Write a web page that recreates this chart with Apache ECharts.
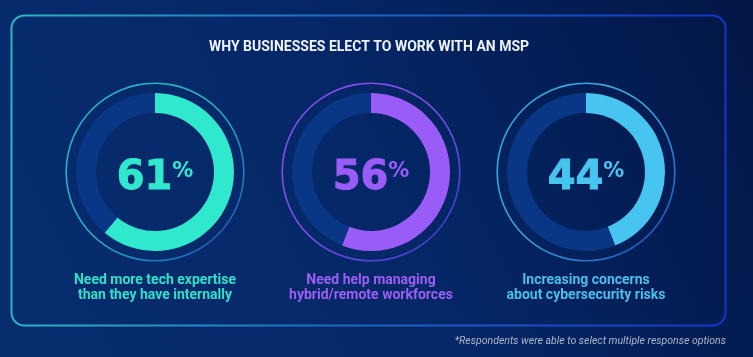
<!DOCTYPE html>
<html><head><meta charset="utf-8">
<script src="https://cdn.jsdelivr.net/npm/echarts@6/dist/echarts.min.js"></script>
<style>html,body{margin:0;padding:0;background:#05245e}#c{width:753px;height:357px}</style>
</head><body><div id="c"></div>
<script>
// ---- data ----
const chartTitle = 'WHY BUSINESSES ELECT TO WORK WITH AN MSP';
const values = [61, 56, 44];
const labels = [
  'Need more tech expertise\nthan they have internally',
  'Need help managing\nhybrid/remote workforces',
  'Increasing concerns\nabout cybersecurity risks'
];
const footnote = '*Respondents were able to select multiple response options';

// ---- styling / layout ----
const fillColors = ['#2fe8cd', '#9a5cf7', '#47c4f0'];
const labelColors = ['#31e0c9', '#9d5ff4', '#4bbdea'];
const ringColors = [['#2ab2c2', '#1b45b4'], ['#8150ea', '#2a3cc0'], ['#3aa6dc', '#1a44b8']];
const centersX = [155, 371, 586];
const centerY = 172;
const trackColor = '#093785';

const chart = echarts.init(document.getElementById('c'));
const series = [];
values.forEach((v, i) => {
  series.push({
    type: 'pie', silent: true, radius: [59, 79], center: [centersX[i], centerY],
    startAngle: 90, clockwise: true, animation: false,
    label: { show: false }, labelLine: { show: false },
    emphasis: { disabled: true },
    data: [
      {
        value: v, itemStyle: { color: fillColors[i] },
        label: {
          show: true, position: 'center',
          formatter: '{n|' + v + '}{p|%}',
          rich: {
            n: { fontSize: 40, fontWeight: 'bold', fontFamily: 'DejaVu Sans', color: fillColors[i], lineHeight: 40, padding: [14, 0, 0, 0],
                 textBorderColor: fillColors[i], textBorderWidth: 1 },
            p: { fontSize: 21, fontWeight: 'bold', fontFamily: 'DejaVu Sans', color: fillColors[i], verticalAlign: 'top', padding: [9, 0, 0, 0] }
          }
        }
      },
      { value: 100 - v, itemStyle: { color: trackColor } }
    ]
  });
  series.push({
    type: 'pie', silent: true, radius: [88, 89.6], center: [centersX[i], centerY],
    animation: false, label: { show: false }, labelLine: { show: false },
    emphasis: { disabled: true },
    data: [{ value: 1, itemStyle: { color: new echarts.graphic.LinearGradient(0, 0, 1, 1, [
      { offset: 0, color: ringColors[i][0] }, { offset: 0.5, color: ringColors[i][0] }, { offset: 1, color: ringColors[i][1] }
    ]) } }]
  });
});

const titles = [{
  text: chartTitle, left: 369, top: 40, textAlign: 'center', padding: 0,
  textStyle: { color: '#eef2fb', fontSize: 14, fontWeight: 'bold', fontFamily: 'Roboto' }
}];
labels.forEach((t, i) => {
  titles.push({
    text: t, left: centersX[i], top: 273, textAlign: 'center', padding: 0,
    textStyle: { color: labelColors[i], fontSize: 14, fontWeight: 'bold', fontFamily: 'Roboto', lineHeight: 15 }
  });
});

chart.setOption({
  animation: false,
  backgroundColor: new echarts.graphic.LinearGradient(0, 1, 1, 0, [
    { offset: 0, color: '#072d6e' }, { offset: 0.5, color: '#052768' }, { offset: 1, color: '#021645' }
  ]),
  title: titles,
  graphic: [
    {
      type: 'rect', z: -1, silent: true,
      shape: { x: 11.5, y: 15.5, width: 714, height: 310, r: 13 },
      style: { fill: 'none', lineWidth: 2, stroke: new echarts.graphic.LinearGradient(0, 0, 1, 0, [
        { offset: 0, color: '#2bb6c2' }, { offset: 0.45, color: '#1f6ac0' }, { offset: 1, color: '#1434c6' }
      ]) }
    },
    {
      type: 'text', silent: true, x: 726, y: 341,
      style: { text: footnote, align: 'right', verticalAlign: 'middle', fill: '#aeb6ca', fontSize: 10.5, fontStyle: 'italic', fontFamily: 'Roboto' }
    }
  ],
  series: series
});
</script></body></html>
